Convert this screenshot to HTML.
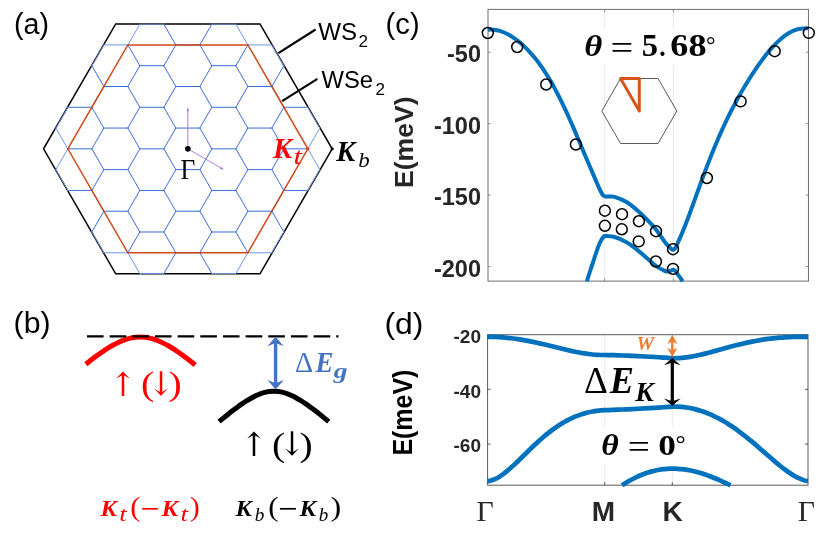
<!DOCTYPE html>
<html><head><meta charset="utf-8"><title>figure</title>
<style>html,body{margin:0;padding:0;background:#fff;overflow:hidden}svg{display:block}text{font-kerning:none}</style>
</head><body>
<svg width="830" height="538" viewBox="0 0 830 538">
<rect width="830" height="538" fill="#fff"/>
<defs><clipPath id="hc"><polygon points="332.55,148.85 260.20,274.16 115.50,274.16 43.15,148.85 115.50,23.54 260.20,23.54"/></clipPath></defs>
<polygon points="332.15,148.85 260.00,273.82 115.70,273.82 43.55,148.85 115.70,23.88 260.00,23.88" fill="none" stroke="#000" stroke-width="1.5"/>
<g clip-path="url(#hc)" fill="none" stroke-linecap="round">
<path d="M91.85,107.28 L103.85,86.50 M67.85,107.28 L91.85,107.28 M103.85,86.50 L91.85,65.71 M91.85,148.85 L103.85,128.07 M67.85,148.85 L91.85,148.85 M103.85,128.07 L91.85,107.28 M91.85,190.42 L103.85,169.63 M67.85,190.42 L91.85,190.42 M103.85,169.63 L91.85,148.85 M91.85,231.99 L103.85,211.20 M103.85,211.20 L91.85,190.42 M127.85,86.50 L139.85,65.71 M103.85,86.50 L127.85,86.50 M139.85,65.71 L127.85,44.93 M127.85,128.07 L139.85,107.28 M103.85,128.07 L127.85,128.07 M139.85,107.28 L127.85,86.50 M127.85,169.63 L139.85,148.85 M103.85,169.63 L127.85,169.63 M139.85,148.85 L127.85,128.07 M127.85,211.20 L139.85,190.42 M103.85,211.20 L127.85,211.20 M139.85,190.42 L127.85,169.63 M127.85,252.77 L139.85,231.99 M139.85,231.99 L127.85,211.20 M163.85,65.71 L175.85,44.93 M139.85,65.71 L163.85,65.71 M175.85,44.93 L163.85,24.14 M163.85,107.28 L175.85,86.50 M139.85,107.28 L163.85,107.28 M175.85,86.50 L163.85,65.71 M163.85,148.85 L175.85,128.07 M139.85,148.85 L163.85,148.85 M175.85,128.07 L163.85,107.28 M163.85,190.42 L175.85,169.63 M139.85,190.42 L163.85,190.42 M175.85,169.63 L163.85,148.85 M163.85,231.99 L175.85,211.20 M139.85,231.99 L163.85,231.99 M175.85,211.20 L163.85,190.42 M163.85,273.56 L175.85,252.77 M175.85,252.77 L163.85,231.99 M199.85,44.93 L211.85,24.14 M175.85,44.93 L199.85,44.93 M199.85,86.50 L211.85,65.71 M175.85,86.50 L199.85,86.50 M211.85,65.71 L199.85,44.93 M199.85,128.07 L211.85,107.28 M175.85,128.07 L199.85,128.07 M211.85,107.28 L199.85,86.50 M199.85,169.63 L211.85,148.85 M175.85,169.63 L199.85,169.63 M211.85,148.85 L199.85,128.07 M199.85,211.20 L211.85,190.42 M175.85,211.20 L199.85,211.20 M211.85,190.42 L199.85,169.63 M199.85,252.77 L211.85,231.99 M175.85,252.77 L199.85,252.77 M211.85,231.99 L199.85,211.20 M211.85,273.56 L199.85,252.77 M235.85,65.71 L247.85,44.93 M211.85,65.71 L235.85,65.71 M235.85,107.28 L247.85,86.50 M211.85,107.28 L235.85,107.28 M247.85,86.50 L235.85,65.71 M235.85,148.85 L247.85,128.07 M211.85,148.85 L235.85,148.85 M247.85,128.07 L235.85,107.28 M235.85,190.42 L247.85,169.63 M211.85,190.42 L235.85,190.42 M247.85,169.63 L235.85,148.85 M235.85,231.99 L247.85,211.20 M211.85,231.99 L235.85,231.99 M247.85,211.20 L235.85,190.42 M247.85,252.77 L235.85,231.99 M271.85,86.50 L283.85,65.71 M247.85,86.50 L271.85,86.50 M271.85,128.07 L283.85,107.28 M247.85,128.07 L271.85,128.07 M283.85,107.28 L271.85,86.50 M271.85,169.63 L283.85,148.85 M247.85,169.63 L271.85,169.63 M283.85,148.85 L271.85,128.07 M271.85,211.20 L283.85,190.42 M247.85,211.20 L271.85,211.20 M283.85,190.42 L271.85,169.63 M283.85,231.99 L271.85,211.20 M283.85,107.28 L307.85,107.28 M283.85,148.85 L307.85,148.85 M283.85,190.42 L307.85,190.42 " stroke="#3c6cd8" stroke-width="1.0"/>
<path d="M67.85,107.28 L55.85,86.50 M55.85,86.50 L67.85,65.71 M67.85,65.71 L91.85,65.71 M67.85,148.85 L55.85,128.07 M55.85,128.07 L67.85,107.28 M67.85,190.42 L55.85,169.63 M55.85,169.63 L67.85,148.85 M91.85,231.99 L67.85,231.99 M67.85,231.99 L55.85,211.20 M55.85,211.20 L67.85,190.42 M91.85,65.71 L103.85,44.93 M103.85,44.93 L127.85,44.93 M127.85,252.77 L103.85,252.77 M103.85,252.77 L91.85,231.99 M127.85,44.93 L139.85,24.14 M139.85,24.14 L163.85,24.14 M163.85,273.56 L139.85,273.56 M139.85,273.56 L127.85,252.77 M163.85,24.14 L175.85,3.36 M175.85,3.36 L199.85,3.36 M199.85,3.36 L211.85,24.14 M211.85,273.56 L199.85,294.34 M199.85,294.34 L175.85,294.34 M175.85,294.34 L163.85,273.56 M211.85,24.14 L235.85,24.14 M235.85,24.14 L247.85,44.93 M247.85,252.77 L235.85,273.56 M235.85,273.56 L211.85,273.56 M247.85,44.93 L271.85,44.93 M271.85,44.93 L283.85,65.71 M283.85,231.99 L271.85,252.77 M271.85,252.77 L247.85,252.77 M319.85,86.50 L307.85,107.28 M283.85,65.71 L307.85,65.71 M307.85,65.71 L319.85,86.50 M319.85,128.07 L307.85,148.85 M307.85,107.28 L319.85,128.07 M319.85,169.63 L307.85,190.42 M307.85,148.85 L319.85,169.63 M319.85,211.20 L307.85,231.99 M307.85,231.99 L283.85,231.99 M307.85,190.42 L319.85,211.20 " stroke="#6f97e6" stroke-width="1.0"/>
</g>
<polygon points="307.85,148.85 247.85,252.77 127.85,252.77 67.85,148.85 127.85,44.93 247.85,44.93" fill="none" stroke="#cc3f0c" stroke-width="1.5" stroke-opacity="0.95"/>
<circle cx="307.85" cy="148.85" r="1.6" fill="#d2460f"/>
<circle cx="332.15" cy="148.85" r="1.6" fill="#000"/>
<line x1="187.85" y1="148.85" x2="187.85" y2="111.28" stroke="#9a5fd0" stroke-width="0.8"/><polygon points="187.85,107.28 188.95,111.28 186.75,111.28" fill="#9a5fd0"/>
<line x1="187.85" y1="148.85" x2="220.39" y2="167.63" stroke="#9a5fd0" stroke-width="0.8"/><polygon points="223.85,169.63 219.84,168.59 220.94,166.68" fill="#9a5fd0"/>
<circle cx="187.85" cy="148.85" r="2.8" fill="#000"/>
<line x1="278.4" y1="53.1" x2="315.6" y2="29.5" stroke="#000" stroke-width="2.1"/>
<line x1="282.1" y1="101.1" x2="317.4" y2="78.8" stroke="#000" stroke-width="2.1"/>
<text x="14.00" y="33.60" font-size="30" font-family="Liberation Sans, sans-serif" fill="#000" textLength="35.00" lengthAdjust="spacingAndGlyphs" >(a)</text>
<text x="13.60" y="333.10" font-size="30" font-family="Liberation Sans, sans-serif" fill="#000" textLength="37.00" lengthAdjust="spacingAndGlyphs" >(b)</text>
<text x="385.60" y="33.60" font-size="30" font-family="Liberation Sans, sans-serif" fill="#000" textLength="34.00" lengthAdjust="spacingAndGlyphs" >(c)</text>
<text x="384.50" y="333.60" font-size="30" font-family="Liberation Sans, sans-serif" fill="#000" textLength="39.00" lengthAdjust="spacingAndGlyphs" >(d)</text>
<text x="318.20" y="40.10" font-size="24.5" font-family="Liberation Sans, sans-serif" fill="#000" textLength="38.80" lengthAdjust="spacingAndGlyphs" >WS</text>
<text x="358.40" y="47.20" font-size="17" font-family="Liberation Sans, sans-serif" fill="#000" textLength="9.50" lengthAdjust="spacingAndGlyphs" >2</text>
<text x="321.50" y="88.10" font-size="24.5" font-family="Liberation Sans, sans-serif" fill="#000" textLength="51.50" lengthAdjust="spacingAndGlyphs" >WSe</text>
<text x="375.50" y="95.20" font-size="17" font-family="Liberation Sans, sans-serif" fill="#000" textLength="9.50" lengthAdjust="spacingAndGlyphs" >2</text>
<text transform="translate(180.46,179.30) scale(0.2553,0.2856)" font-family="Liberation Serif, serif" font-size="100" fill="#000">Γ</text>
<text transform="translate(273.01,157.60) scale(0.2863,0.2917)" font-family="Liberation Serif, serif" font-size="100" fill="#ff0000" font-weight="bold" font-style="italic">K</text>
<text transform="translate(293.45,163.67) scale(0.3072,0.2340)" font-family="Liberation Serif, serif" font-size="100" fill="#ff0000" font-style="italic">t</text>
<text transform="translate(336.21,161.00) scale(0.2849,0.2841)" font-family="Liberation Serif, serif" font-size="100" fill="#000" font-weight="bold" font-style="italic">K</text>
<text transform="translate(358.15,166.80) scale(0.2288,0.2004)" font-family="Liberation Serif, serif" font-size="100" fill="#000" font-style="italic">b</text>
<path d="M85.90,364.21 C86.66,363.60 88.94,361.75 90.45,360.56 C91.97,359.37 93.49,358.19 95.01,357.05 C96.53,355.91 98.04,354.79 99.56,353.71 C101.08,352.63 102.60,351.58 104.12,350.57 C105.63,349.55 107.15,348.57 108.67,347.65 C110.19,346.72 111.71,345.83 113.22,344.99 C114.74,344.16 116.26,343.37 117.78,342.64 C119.30,341.92 120.82,341.25 122.33,340.65 C123.85,340.05 125.37,339.51 126.89,339.05 C128.41,338.59 129.92,338.20 131.44,337.89 C132.96,337.58 134.48,337.35 136.00,337.20 C137.51,337.05 139.03,336.99 140.55,337.00 C142.07,337.02 143.59,337.12 145.10,337.31 C146.62,337.49 148.14,337.76 149.66,338.10 C151.18,338.44 152.69,338.87 154.21,339.36 C155.73,339.85 157.25,340.42 158.77,341.05 C160.28,341.67 161.80,342.37 163.32,343.12 C164.84,343.87 166.36,344.68 167.88,345.54 C169.39,346.39 170.91,347.31 172.43,348.25 C173.95,349.20 175.47,350.20 176.98,351.22 C178.50,352.25 180.02,353.32 181.54,354.42 C183.06,355.51 184.57,356.64 186.09,357.79 C187.61,358.95 189.13,360.13 190.65,361.33 C192.16,362.54 194.44,364.40 195.20,365.01" fill="none" stroke="#ff0000" stroke-width="5.0"/>
<path d="M219.10,421.69 C219.86,421.05 222.14,419.13 223.67,417.88 C225.19,416.62 226.71,415.38 228.23,414.17 C229.76,412.95 231.28,411.76 232.80,410.59 C234.32,409.42 235.84,408.27 237.37,407.16 C238.89,406.05 240.41,404.97 241.93,403.93 C243.46,402.89 244.98,401.88 246.50,400.92 C248.02,399.97 249.54,399.05 251.07,398.20 C252.59,397.36 254.11,396.55 255.63,395.83 C257.16,395.11 258.68,394.45 260.20,393.88 C261.72,393.31 263.24,392.81 264.77,392.42 C266.29,392.02 267.81,391.71 269.33,391.51 C270.86,391.31 272.38,391.20 273.90,391.20 C275.42,391.20 276.94,391.31 278.47,391.51 C279.99,391.71 281.51,392.02 283.03,392.42 C284.56,392.81 286.08,393.31 287.60,393.88 C289.12,394.45 290.64,395.11 292.17,395.83 C293.69,396.55 295.21,397.36 296.73,398.20 C298.26,399.05 299.78,399.97 301.30,400.92 C302.82,401.88 304.34,402.89 305.87,403.93 C307.39,404.97 308.91,406.05 310.43,407.16 C311.96,408.27 313.48,409.42 315.00,410.59 C316.52,411.76 318.04,412.95 319.57,414.17 C321.09,415.38 322.61,416.62 324.13,417.88 C325.66,419.13 327.94,421.05 328.70,421.69" fill="none" stroke="#000" stroke-width="5.0"/>
<line x1="87.0" y1="336.4" x2="338.5" y2="336.4" stroke="#000" stroke-width="2.4" stroke-dasharray="16.6 6.06"/>
<g fill="#4472c4" stroke="none"><rect x="273.90" y="342.54" width="3.40" height="41.13"/><polygon points="275.60,336.70 283.75,346.30 275.60,343.04 267.45,346.30"/><polygon points="275.60,389.50 283.75,379.90 275.60,383.16 267.45,379.90"/></g>
<text transform="translate(294.93,372.00) scale(0.2820,0.2863)" font-family="Liberation Serif, serif" font-size="100" fill="#4472c4">Δ</text>
<text transform="translate(315.50,372.00) scale(0.2687,0.2886)" font-family="Liberation Serif, serif" font-size="100" fill="#4472c4" font-weight="bold" font-style="italic">E</text>
<text transform="translate(333.71,377.79) scale(0.2743,0.2163)" font-family="Liberation Serif, serif" font-size="100" fill="#4472c4" font-weight="bold" font-style="italic">g</text>
<text transform="translate(109.81,395.50) scale(0.3160,0.3281)" font-family="DejaVu Serif, serif" font-size="100" fill="#ff0000">↑</text><text transform="translate(141.05,395.11) scale(0.3971,0.3331)" font-family="Liberation Serif, serif" font-size="100" fill="#ff0000">(</text><text transform="translate(148.12,394.84) scale(0.3111,0.3281)" font-family="DejaVu Serif, serif" font-size="100" fill="#ff0000">↓</text><text transform="translate(168.62,395.11) scale(0.3971,0.3331)" font-family="Liberation Serif, serif" font-size="100" fill="#ff0000">)</text>
<text transform="translate(240.81,456.10) scale(0.3160,0.3281)" font-family="DejaVu Serif, serif" font-size="100" fill="#000">↑</text><text transform="translate(272.05,455.71) scale(0.3971,0.3331)" font-family="Liberation Serif, serif" font-size="100" fill="#000">(</text><text transform="translate(279.12,455.44) scale(0.3111,0.3281)" font-family="DejaVu Serif, serif" font-size="100" fill="#000">↓</text><text transform="translate(299.62,455.71) scale(0.3971,0.3331)" font-family="Liberation Serif, serif" font-size="100" fill="#000">)</text>
<text transform="translate(100.38,515.80) scale(0.2466,0.2382)" font-family="Liberation Serif, serif" font-size="100" fill="#ff0000" font-weight="bold" font-style="italic">K</text><text transform="translate(119.32,521.10) scale(0.2678,0.2043)" font-family="Liberation Serif, serif" font-size="100" fill="#ff0000" font-style="italic">t</text><text transform="translate(130.17,516.47) scale(0.3037,0.2647)" font-family="Liberation Serif, serif" font-size="100" fill="#ff0000">(</text><text transform="translate(140.32,520.18) scale(0.3374,0.3413)" font-family="Liberation Serif, serif" font-size="100" fill="#ff0000">−</text><text transform="translate(161.48,515.80) scale(0.2507,0.2382)" font-family="Liberation Serif, serif" font-size="100" fill="#ff0000" font-weight="bold" font-style="italic">K</text><text transform="translate(180.42,521.10) scale(0.2678,0.2043)" font-family="Liberation Serif, serif" font-size="100" fill="#ff0000" font-style="italic">t</text><text transform="translate(190.06,516.47) scale(0.2920,0.2647)" font-family="Liberation Serif, serif" font-size="100" fill="#ff0000">)</text>
<text transform="translate(235.38,515.80) scale(0.2466,0.2382)" font-family="Liberation Serif, serif" font-size="100" fill="#000" font-weight="bold" font-style="italic">K</text><text transform="translate(254.79,521.12) scale(0.1919,0.1819)" font-family="Liberation Serif, serif" font-size="100" fill="#000" font-style="italic">b</text><text transform="translate(268.25,516.47) scale(0.3076,0.2647)" font-family="Liberation Serif, serif" font-size="100" fill="#000">(</text><text transform="translate(278.09,520.18) scale(0.3438,0.3413)" font-family="Liberation Serif, serif" font-size="100" fill="#000">−</text><text transform="translate(299.58,515.80) scale(0.2507,0.2382)" font-family="Liberation Serif, serif" font-size="100" fill="#000" font-weight="bold" font-style="italic">K</text><text transform="translate(318.70,521.12) scale(0.1895,0.1819)" font-family="Liberation Serif, serif" font-size="100" fill="#000" font-style="italic">b</text><text transform="translate(330.46,516.47) scale(0.3232,0.2647)" font-family="Liberation Serif, serif" font-size="100" fill="#000">)</text>
<defs><clipPath id="cc"><rect x="487.0" y="8.4" width="321.9" height="277.7"/></clipPath></defs>
<line x1="604.6" y1="9.4" x2="604.6" y2="281.1" stroke="#e9e9e9" stroke-width="1"/>
<line x1="673.4" y1="9.4" x2="673.4" y2="281.1" stroke="#e9e9e9" stroke-width="1"/>
<rect x="488.00" y="9.40" width="320.45" height="271.70" fill="none" stroke="#707070" stroke-width="1"/>
<line x1="488.0" y1="52.2" x2="490.8" y2="52.2" stroke="#777" stroke-width="0.8"/>
<line x1="808.5" y1="52.2" x2="805.7" y2="52.2" stroke="#777" stroke-width="0.8"/>
<text x="481.00" y="62.20" font-size="23.5" font-family="Liberation Sans, sans-serif" fill="#262626" font-weight="bold" text-anchor="end" >-50</text>
<line x1="488.0" y1="123.6" x2="490.8" y2="123.6" stroke="#777" stroke-width="0.8"/>
<line x1="808.5" y1="123.6" x2="805.7" y2="123.6" stroke="#777" stroke-width="0.8"/>
<text x="481.00" y="133.60" font-size="23.5" font-family="Liberation Sans, sans-serif" fill="#262626" font-weight="bold" text-anchor="end" >-100</text>
<line x1="488.0" y1="195.1" x2="490.8" y2="195.1" stroke="#777" stroke-width="0.8"/>
<line x1="808.5" y1="195.1" x2="805.7" y2="195.1" stroke="#777" stroke-width="0.8"/>
<text x="481.00" y="205.10" font-size="23.5" font-family="Liberation Sans, sans-serif" fill="#262626" font-weight="bold" text-anchor="end" >-150</text>
<line x1="488.0" y1="266.6" x2="490.8" y2="266.6" stroke="#777" stroke-width="0.8"/>
<line x1="808.5" y1="266.6" x2="805.7" y2="266.6" stroke="#777" stroke-width="0.8"/>
<text x="481.00" y="276.60" font-size="23.5" font-family="Liberation Sans, sans-serif" fill="#262626" font-weight="bold" text-anchor="end" >-200</text>
<line x1="604.6" y1="281.1" x2="604.6" y2="278.3" stroke="#777" stroke-width="0.8"/>
<line x1="604.6" y1="9.4" x2="604.6" y2="12.2" stroke="#777" stroke-width="0.8"/>
<line x1="673.4" y1="281.1" x2="673.4" y2="278.3" stroke="#777" stroke-width="0.8"/>
<line x1="673.4" y1="9.4" x2="673.4" y2="12.2" stroke="#777" stroke-width="0.8"/>
<g clip-path="url(#cc)" fill="none" stroke="#0072bd" stroke-width="4.0" stroke-linejoin="round">
<path d="M487.90,29.80 C488.40,29.76 489.89,29.58 490.89,29.56 C491.89,29.55 492.89,29.60 493.88,29.70 C494.88,29.80 495.88,29.96 496.88,30.17 C497.87,30.37 498.87,30.64 499.87,30.94 C500.87,31.24 501.86,31.60 502.86,31.99 C503.86,32.38 504.86,32.82 505.85,33.30 C506.85,33.78 507.85,34.29 508.85,34.85 C509.84,35.41 510.84,36.00 511.84,36.63 C512.84,37.27 513.83,37.94 514.83,38.64 C515.83,39.35 516.83,40.09 517.82,40.87 C518.82,41.65 519.82,42.47 520.82,43.33 C521.81,44.18 522.81,45.08 523.81,46.01 C524.81,46.94 525.80,47.91 526.80,48.92 C527.80,49.93 528.79,50.98 529.79,52.07 C530.79,53.16 531.79,54.29 532.78,55.47 C533.78,56.64 534.78,57.85 535.78,59.11 C536.77,60.37 537.77,61.67 538.77,63.02 C539.77,64.37 540.76,65.76 541.76,67.19 C542.76,68.63 543.76,70.11 544.75,71.64 C545.75,73.17 546.75,74.74 547.75,76.36 C548.74,77.98 549.74,79.65 550.74,81.37 C551.74,83.08 552.73,84.84 553.73,86.65 C554.73,88.46 555.73,90.31 556.72,92.21 C557.72,94.11 558.72,96.05 559.72,98.04 C560.71,100.03 561.71,102.06 562.71,104.13 C563.71,106.20 564.70,108.31 565.70,110.46 C566.70,112.60 567.69,114.79 568.69,117.01 C569.69,119.22 570.69,121.48 571.68,123.75 C572.68,126.03 573.68,128.33 574.68,130.66 C575.67,132.98 576.67,135.33 577.67,137.68 C578.67,140.04 579.66,142.41 580.66,144.78 C581.66,147.15 582.66,149.54 583.65,151.90 C584.65,154.27 585.65,156.64 586.65,158.98 C587.64,161.32 588.10,162.33 589.64,165.94 C591.18,169.54 594.31,176.89 595.90,180.60 C597.49,184.31 598.23,186.10 599.20,188.20 C600.17,190.30 601.00,191.97 601.70,193.20 C602.40,194.43 602.82,195.07 603.40,195.60 C603.98,196.13 604.10,196.25 605.20,196.40 C606.30,196.55 608.43,196.42 610.00,196.50 C611.57,196.58 611.85,195.98 614.60,196.90 C617.35,197.82 622.78,199.82 626.50,202.00 C630.22,204.18 633.43,207.02 636.90,210.00 C640.37,212.98 644.08,216.60 647.30,219.90 C650.52,223.20 653.22,226.03 656.20,229.80 C659.18,233.57 663.03,239.68 665.20,242.50 C667.37,245.32 668.18,245.63 669.20,246.70 C670.22,247.77 670.68,248.38 671.30,248.90 C671.92,249.42 672.33,249.80 672.90,249.80 C673.47,249.80 674.10,249.55 674.70,248.90 C675.30,248.25 675.80,247.36 676.50,245.90 C677.20,244.44 678.06,242.13 678.93,240.15 C679.79,238.17 680.77,236.16 681.69,234.02 C682.61,231.88 683.53,229.62 684.45,227.32 C685.37,225.01 686.30,222.62 687.22,220.20 C688.14,217.78 689.06,215.29 689.98,212.79 C690.90,210.30 691.82,207.75 692.74,205.21 C693.66,202.67 694.59,200.11 695.51,197.55 C696.43,195.00 697.35,192.43 698.27,189.89 C699.19,187.34 700.11,184.79 701.03,182.28 C701.95,179.76 702.87,177.25 703.80,174.77 C704.72,172.30 705.64,169.84 706.56,167.42 C707.48,165.00 708.40,162.60 709.32,160.24 C710.24,157.88 711.16,155.56 712.09,153.26 C713.01,150.97 713.93,148.72 714.85,146.49 C715.77,144.27 716.69,142.09 717.61,139.94 C718.53,137.79 719.45,135.68 720.38,133.61 C721.30,131.53 722.22,129.50 723.14,127.49 C724.06,125.49 724.98,123.52 725.90,121.59 C726.82,119.66 727.74,117.76 728.67,115.89 C729.59,114.02 730.51,112.19 731.43,110.39 C732.35,108.58 733.27,106.81 734.19,105.07 C735.11,103.32 736.03,101.61 736.96,99.92 C737.88,98.23 738.80,96.58 739.72,94.94 C740.64,93.31 741.56,91.70 742.48,90.12 C743.40,88.54 744.32,86.98 745.24,85.45 C746.17,83.92 747.09,82.41 748.01,80.92 C748.93,79.44 749.85,77.97 750.77,76.53 C751.69,75.10 752.61,73.68 753.53,72.29 C754.46,70.89 755.38,69.52 756.30,68.18 C757.22,66.83 758.14,65.51 759.06,64.21 C759.98,62.91 760.90,61.64 761.82,60.39 C762.75,59.14 763.67,57.92 764.59,56.73 C765.51,55.53 766.43,54.37 767.35,53.23 C768.27,52.09 769.19,50.98 770.11,49.91 C771.04,48.83 771.96,47.78 772.88,46.77 C773.80,45.76 774.72,44.78 775.64,43.84 C776.56,42.90 777.48,42.00 778.40,41.13 C779.33,40.27 780.25,39.44 781.17,38.65 C782.09,37.87 783.01,37.12 783.93,36.42 C784.85,35.72 785.77,35.06 786.69,34.44 C787.61,33.83 788.54,33.26 789.46,32.74 C790.38,32.21 791.30,31.74 792.22,31.31 C793.14,30.88 794.06,30.50 794.98,30.16 C795.90,29.83 796.83,29.54 797.75,29.30 C798.67,29.05 799.59,28.86 800.51,28.70 C801.43,28.55 802.35,28.44 803.27,28.37 C804.19,28.30 805.12,28.28 806.04,28.28 C806.96,28.29 808.34,28.38 808.80,28.40"/>
<path d="M586.90,281.30 C587.30,280.00 588.40,276.30 589.30,273.50 C590.20,270.70 590.80,268.98 592.30,264.50 C593.80,260.02 596.68,250.90 598.30,246.60 C599.92,242.30 600.95,240.48 602.00,238.70 C603.05,236.92 604.17,236.37 604.60,235.90 L604.60,235.90 C606.27,236.08 610.95,235.95 614.60,237.00 C618.25,238.05 622.78,240.10 626.50,242.20 C630.22,244.30 633.43,246.88 636.90,249.60 C640.37,252.32 644.08,255.77 647.30,258.50 C650.52,261.23 653.47,264.02 656.20,266.00 C658.93,267.98 661.90,269.48 663.70,270.40 C665.50,271.32 665.95,271.40 667.00,271.50 C668.05,271.60 669.00,271.28 670.00,271.00 C671.00,270.72 672.07,269.78 673.00,269.80 C673.93,269.82 674.83,270.37 675.60,271.10 C676.37,271.83 676.83,273.12 677.60,274.20 C678.37,275.28 679.35,276.42 680.20,277.60 C681.05,278.78 682.28,280.68 682.70,281.30 "/>
</g>
<circle cx="487.8" cy="33.0" r="5.45" fill="none" stroke="#000" stroke-width="1.5"/>
<circle cx="517.2" cy="47.0" r="5.45" fill="none" stroke="#000" stroke-width="1.5"/>
<circle cx="546.2" cy="84.5" r="5.45" fill="none" stroke="#000" stroke-width="1.5"/>
<circle cx="575.9" cy="144.5" r="5.45" fill="none" stroke="#000" stroke-width="1.5"/>
<circle cx="604.9" cy="210.7" r="5.45" fill="none" stroke="#000" stroke-width="1.5"/>
<circle cx="622.0" cy="214.2" r="5.45" fill="none" stroke="#000" stroke-width="1.5"/>
<circle cx="638.9" cy="221.2" r="5.45" fill="none" stroke="#000" stroke-width="1.5"/>
<circle cx="656.0" cy="231.2" r="5.45" fill="none" stroke="#000" stroke-width="1.5"/>
<circle cx="673.0" cy="249.2" r="5.45" fill="none" stroke="#000" stroke-width="1.5"/>
<circle cx="604.9" cy="225.8" r="5.45" fill="none" stroke="#000" stroke-width="1.5"/>
<circle cx="621.8" cy="229.3" r="5.45" fill="none" stroke="#000" stroke-width="1.5"/>
<circle cx="638.7" cy="241.4" r="5.45" fill="none" stroke="#000" stroke-width="1.5"/>
<circle cx="655.9" cy="261.5" r="5.45" fill="none" stroke="#000" stroke-width="1.5"/>
<circle cx="673.0" cy="268.9" r="5.45" fill="none" stroke="#000" stroke-width="1.5"/>
<circle cx="706.9" cy="178.0" r="5.45" fill="none" stroke="#000" stroke-width="1.5"/>
<circle cx="740.6" cy="101.4" r="5.45" fill="none" stroke="#000" stroke-width="1.5"/>
<circle cx="774.7" cy="51.2" r="5.45" fill="none" stroke="#000" stroke-width="1.5"/>
<circle cx="808.8" cy="32.9" r="5.45" fill="none" stroke="#000" stroke-width="1.5"/>
<rect x="580" y="28.6" width="142" height="36.1" fill="#fff"/>
<text transform="translate(584.30,56.31) scale(0.3471,0.2962)" font-family="Liberation Serif, serif" font-size="100" fill="#000" font-weight="bold" font-style="italic">θ</text>
<text transform="translate(610.59,59.06) scale(0.4040,0.3360)" font-family="Liberation Serif, serif" font-size="100" fill="#000">=</text>
<text transform="translate(641.69,56.29) scale(0.3260,0.3130)" font-family="Liberation Serif, serif" font-size="100" fill="#000" font-weight="bold">5</text>
<text transform="translate(659.26,56.21) scale(0.2591,0.2776)" font-family="Liberation Serif, serif" font-size="100" fill="#000" font-weight="bold">.</text>
<text transform="translate(670.36,56.30) scale(0.3613,0.3082)" font-family="Liberation Serif, serif" font-size="100" fill="#000" font-weight="bold">68</text>
<text transform="translate(705.96,52.65) scale(0.2374,0.2473)" font-family="Liberation Serif, serif" font-size="100" fill="#000">°</text>
<polygon points="676.80,111.00 658.05,143.48 620.55,143.48 601.80,111.00 620.55,78.52 658.05,78.52" fill="none" stroke="#444" stroke-width="0.9"/>
<polygon points="639.30,111.00 620.55,78.52 639.30,78.52" fill="none" stroke="#d9541a" stroke-width="3.0" stroke-linejoin="round"/>
<text transform="translate(412.5,188.0) rotate(-90)" font-size="26" font-family="Liberation Sans, sans-serif" font-weight="bold" fill="#262626" textLength="91.5" lengthAdjust="spacingAndGlyphs">E(meV)</text>
<defs><clipPath id="cd"><rect x="486.9" y="333.7" width="321.6" height="156.5"/></clipPath></defs>
<line x1="604.7" y1="334.7" x2="604.7" y2="485.2" stroke="#e9e9e9" stroke-width="1"/>
<line x1="672.3" y1="334.7" x2="672.3" y2="485.2" stroke="#e9e9e9" stroke-width="1"/>
<rect x="487.60" y="334.70" width="320.40" height="150.50" fill="none" stroke="#5a5a5a" stroke-width="1"/>
<text x="481.00" y="342.90" font-size="19" font-family="Liberation Sans, sans-serif" fill="#262626" font-weight="bold" text-anchor="end" >-20</text>
<line x1="487.6" y1="389.3" x2="490.6" y2="389.3" stroke="#333" stroke-width="0.8"/>
<line x1="808.0" y1="389.3" x2="805.0" y2="389.3" stroke="#333" stroke-width="0.8"/>
<text x="481.00" y="397.50" font-size="19" font-family="Liberation Sans, sans-serif" fill="#262626" font-weight="bold" text-anchor="end" >-40</text>
<line x1="487.6" y1="444.1" x2="490.6" y2="444.1" stroke="#333" stroke-width="0.8"/>
<line x1="808.0" y1="444.1" x2="805.0" y2="444.1" stroke="#333" stroke-width="0.8"/>
<text x="481.00" y="452.30" font-size="19" font-family="Liberation Sans, sans-serif" fill="#262626" font-weight="bold" text-anchor="end" >-60</text>
<line x1="604.7" y1="485.2" x2="604.7" y2="482.2" stroke="#333" stroke-width="0.8"/>
<line x1="672.3" y1="485.2" x2="672.3" y2="482.2" stroke="#333" stroke-width="0.8"/>
<g clip-path="url(#cd)" fill="none" stroke="#0072bd" stroke-width="4.7" stroke-linejoin="round">
<path d="M487.10,336.80 C487.78,336.80 489.81,336.80 491.16,336.82 C492.51,336.84 493.86,336.88 495.22,336.93 C496.57,336.98 497.92,337.05 499.28,337.13 C500.63,337.21 501.98,337.31 503.33,337.42 C504.69,337.53 506.04,337.65 507.39,337.79 C508.75,337.93 510.10,338.08 511.45,338.25 C512.80,338.41 514.16,338.59 515.51,338.78 C516.86,338.97 518.22,339.18 519.57,339.39 C520.92,339.61 522.27,339.84 523.63,340.07 C524.98,340.31 526.33,340.56 527.69,340.82 C529.04,341.08 530.39,341.35 531.74,341.63 C533.10,341.91 534.45,342.19 535.80,342.49 C537.16,342.78 538.51,343.08 539.86,343.39 C541.21,343.70 542.57,344.01 543.92,344.33 C545.27,344.65 546.63,344.98 547.98,345.30 C549.33,345.63 550.69,345.96 552.04,346.29 C553.39,346.62 554.74,346.95 556.10,347.28 C557.45,347.61 558.80,347.95 560.16,348.27 C561.51,348.60 562.86,348.93 564.21,349.25 C565.57,349.57 566.92,349.89 568.27,350.20 C569.63,350.50 570.98,350.81 572.33,351.10 C573.68,351.39 575.04,351.68 576.39,351.95 C577.74,352.22 579.10,352.48 580.45,352.73 C581.80,352.97 583.15,353.21 584.51,353.42 C585.86,353.64 587.21,353.84 588.57,354.01 C589.92,354.19 591.27,354.35 592.62,354.48 C593.98,354.62 595.33,354.73 596.68,354.82 C598.04,354.90 599.39,354.97 600.74,355.00 C602.09,355.03 603.37,354.98 604.80,355.00 C606.23,355.02 607.80,355.06 609.30,355.10 C610.80,355.14 612.30,355.17 613.80,355.22 C615.30,355.26 616.80,355.30 618.30,355.35 C619.80,355.39 621.30,355.44 622.80,355.50 C624.30,355.55 625.80,355.60 627.30,355.66 C628.80,355.72 630.30,355.78 631.80,355.84 C633.30,355.91 634.80,355.97 636.30,356.04 C637.80,356.11 639.30,356.18 640.80,356.25 C642.30,356.33 643.80,356.40 645.30,356.48 C646.80,356.56 648.30,356.64 649.80,356.73 C651.30,356.81 652.80,356.90 654.30,356.99 C655.80,357.08 657.30,357.17 658.80,357.27 C660.30,357.36 661.80,357.46 663.30,357.56 C664.80,357.66 666.30,357.77 667.80,357.87 C669.30,357.98 670.77,358.15 672.30,358.20 C673.83,358.25 675.42,358.24 676.98,358.19 C678.54,358.14 680.10,358.04 681.67,357.90 C683.23,357.77 684.79,357.59 686.35,357.38 C687.91,357.18 689.47,356.93 691.03,356.66 C692.59,356.39 694.15,356.09 695.71,355.77 C697.27,355.45 698.84,355.10 700.40,354.74 C701.96,354.39 703.52,354.00 705.08,353.61 C706.64,353.22 708.20,352.82 709.76,352.40 C711.32,351.99 712.88,351.57 714.44,351.14 C716.01,350.72 717.57,350.29 719.13,349.85 C720.69,349.42 722.25,348.99 723.81,348.56 C725.37,348.13 726.93,347.70 728.49,347.28 C730.05,346.85 731.61,346.43 733.18,346.03 C734.74,345.62 736.30,345.21 737.86,344.82 C739.42,344.43 740.98,344.04 742.54,343.68 C744.10,343.31 745.66,342.95 747.22,342.60 C748.79,342.26 750.35,341.93 751.91,341.61 C753.47,341.29 755.03,340.99 756.59,340.71 C758.15,340.42 759.71,340.15 761.27,339.90 C762.83,339.65 764.39,339.41 765.96,339.19 C767.52,338.97 769.08,338.77 770.64,338.58 C772.20,338.39 773.76,338.22 775.32,338.07 C776.88,337.91 778.44,337.78 780.00,337.65 C781.56,337.53 783.13,337.42 784.69,337.33 C786.25,337.24 787.81,337.16 789.37,337.09 C790.93,337.03 792.49,336.98 794.05,336.93 C795.61,336.89 797.17,336.86 798.73,336.84 C800.30,336.82 801.86,336.81 803.42,336.80 C804.98,336.79 807.32,336.80 808.10,336.80"/>
<path d="M487.30,481.30 C487.98,481.17 490.00,480.91 491.35,480.52 C492.70,480.12 494.05,479.57 495.40,478.93 C496.75,478.28 498.10,477.51 499.46,476.67 C500.81,475.82 502.16,474.87 503.51,473.87 C504.86,472.86 506.21,471.77 507.56,470.65 C508.91,469.52 510.26,468.32 511.61,467.11 C512.96,465.89 514.31,464.62 515.66,463.34 C517.01,462.06 518.36,460.75 519.71,459.44 C521.06,458.12 522.41,456.79 523.77,455.46 C525.12,454.14 526.47,452.80 527.82,451.48 C529.17,450.16 530.52,448.85 531.87,447.55 C533.22,446.26 534.57,444.97 535.92,443.72 C537.27,442.46 538.62,441.22 539.97,440.02 C541.32,438.81 542.67,437.63 544.02,436.48 C545.37,435.33 546.73,434.22 548.08,433.14 C549.43,432.06 550.78,431.01 552.13,430.01 C553.48,429.00 554.83,428.03 556.18,427.10 C557.53,426.17 558.88,425.27 560.23,424.42 C561.58,423.57 562.93,422.76 564.28,421.99 C565.63,421.22 566.98,420.49 568.33,419.80 C569.69,419.10 571.04,418.45 572.39,417.84 C573.74,417.23 575.09,416.66 576.44,416.12 C577.79,415.59 579.14,415.09 580.49,414.64 C581.84,414.18 583.19,413.76 584.54,413.37 C585.89,412.99 587.24,412.64 588.59,412.33 C589.94,412.02 591.29,411.74 592.64,411.50 C594.00,411.25 595.35,411.04 596.70,410.87 C598.05,410.69 599.40,410.55 600.75,410.44 C602.10,410.32 603.37,410.26 604.80,410.20 C606.23,410.14 607.80,410.10 609.30,410.05 C610.80,409.99 612.30,409.94 613.80,409.88 C615.30,409.82 616.80,409.76 618.30,409.70 C619.80,409.64 621.30,409.58 622.80,409.51 C624.30,409.45 625.80,409.38 627.30,409.31 C628.80,409.24 630.30,409.17 631.80,409.09 C633.30,409.02 634.80,408.94 636.30,408.87 C637.80,408.79 639.30,408.71 640.80,408.63 C642.30,408.54 643.80,408.46 645.30,408.37 C646.80,408.29 648.30,408.20 649.80,408.11 C651.30,408.02 652.80,407.93 654.30,407.83 C655.80,407.74 657.30,407.64 658.80,407.54 C660.30,407.44 661.80,407.34 663.30,407.24 C664.80,407.14 666.30,407.03 667.80,406.93 C669.30,406.82 670.77,406.65 672.30,406.60 C673.83,406.55 675.42,406.58 676.98,406.63 C678.54,406.69 680.10,406.79 681.67,406.93 C683.23,407.07 684.79,407.26 686.35,407.49 C687.91,407.71 689.47,407.99 691.03,408.30 C692.59,408.62 694.15,408.98 695.71,409.38 C697.27,409.78 698.84,410.22 700.40,410.71 C701.96,411.20 703.52,411.74 705.08,412.31 C706.64,412.89 708.20,413.51 709.76,414.17 C711.32,414.83 712.88,415.54 714.44,416.29 C716.01,417.04 717.57,417.83 719.13,418.66 C720.69,419.49 722.25,420.37 723.81,421.28 C725.37,422.20 726.93,423.16 728.49,424.15 C730.05,425.15 731.61,426.18 733.18,427.25 C734.74,428.32 736.30,429.43 737.86,430.57 C739.42,431.71 740.98,432.89 742.54,434.10 C744.10,435.30 745.66,436.54 747.22,437.80 C748.79,439.05 750.35,440.34 751.91,441.65 C753.47,442.95 755.03,444.28 756.59,445.62 C758.15,446.96 759.71,448.32 761.27,449.68 C762.83,451.03 764.39,452.41 765.96,453.77 C767.52,455.13 769.08,456.50 770.64,457.84 C772.20,459.19 773.76,460.54 775.32,461.85 C776.88,463.16 778.44,464.47 780.00,465.72 C781.56,466.98 783.13,468.21 784.69,469.38 C786.25,470.55 787.81,471.69 789.37,472.74 C790.93,473.80 792.49,474.81 794.05,475.72 C795.61,476.64 797.17,477.49 798.73,478.22 C800.30,478.95 801.86,479.60 803.42,480.12 C804.98,480.63 807.32,481.10 808.10,481.30"/>
<path d="M622.00,485.30 C622.62,484.91 624.49,483.69 625.74,482.93 C626.99,482.17 628.24,481.44 629.48,480.74 C630.73,480.04 631.98,479.37 633.22,478.72 C634.47,478.08 635.72,477.47 636.97,476.89 C638.21,476.30 639.46,475.75 640.71,475.23 C641.95,474.71 643.20,474.22 644.45,473.76 C645.70,473.30 646.94,472.87 648.19,472.48 C649.44,472.08 650.68,471.71 651.93,471.38 C653.18,471.04 654.43,470.74 655.67,470.46 C656.92,470.19 658.17,469.95 659.41,469.74 C660.66,469.52 661.91,469.34 663.16,469.19 C664.40,469.04 665.65,468.92 666.90,468.83 C668.14,468.74 669.39,468.68 670.64,468.64 C671.89,468.61 673.13,468.61 674.38,468.64 C675.63,468.66 676.87,468.72 678.12,468.80 C679.37,468.88 680.61,468.99 681.86,469.13 C683.11,469.27 684.36,469.43 685.60,469.62 C686.85,469.81 688.10,470.03 689.34,470.27 C690.59,470.51 691.84,470.78 693.09,471.06 C694.33,471.35 695.58,471.67 696.83,472.00 C698.07,472.34 699.32,472.70 700.57,473.07 C701.82,473.45 703.06,473.85 704.31,474.27 C705.56,474.69 706.80,475.13 708.05,475.58 C709.30,476.04 710.55,476.51 711.79,477.00 C713.04,477.49 714.29,478.00 715.53,478.52 C716.78,479.04 718.03,479.57 719.28,480.12 C720.52,480.66 721.77,481.22 723.02,481.79 C724.26,482.36 725.51,482.94 726.76,483.52 C728.01,484.11 729.88,485.00 730.50,485.30"/>
</g>
<rect x="596" y="426.9" width="96" height="36.6" fill="#fff"/>
<text transform="translate(601.24,455.12) scale(0.3363,0.2891)" font-family="Liberation Serif, serif" font-size="100" fill="#000" font-weight="bold" font-style="italic">θ</text>
<text transform="translate(627.74,457.97) scale(0.3933,0.3320)" font-family="Liberation Serif, serif" font-size="100" fill="#000">=</text>
<text transform="translate(658.15,455.10) scale(0.3539,0.3038)" font-family="Liberation Serif, serif" font-size="100" fill="#000" font-weight="bold">0</text>
<text transform="translate(675.48,451.57) scale(0.2539,0.2506)" font-family="Liberation Serif, serif" font-size="100" fill="#000">°</text>
<text transform="translate(583.88,393.10) scale(0.3719,0.3848)" font-family="Liberation Serif, serif" font-size="100" fill="#000">Δ</text>
<text transform="translate(609.87,393.10) scale(0.3625,0.3757)" font-family="Liberation Serif, serif" font-size="100" fill="#000" font-weight="bold" font-style="italic">E</text>
<text transform="translate(635.20,400.60) scale(0.2781,0.2703)" font-family="Liberation Serif, serif" font-size="100" fill="#000" font-weight="bold" font-style="italic">K</text>
<g fill="#000" stroke="none"><rect x="670.70" y="362.06" width="3.20" height="39.67"/><polygon points="672.30,358.10 680.65,365.30 672.30,362.56 663.95,365.30"/><polygon points="672.30,405.70 680.65,398.50 672.30,401.24 663.95,398.50"/></g>
<g fill="#ed7d31" stroke="none"><rect x="671.10" y="341.10" width="2.40" height="9.60"/><polygon points="672.30,334.70 677.30,343.90 672.30,341.60 667.30,343.90"/><polygon points="672.30,357.10 677.30,347.90 672.30,350.20 667.30,347.90"/></g>
<text transform="translate(636.54,350.12) scale(0.1980,0.1821)" font-family="Liberation Serif, serif" font-size="100" fill="#ed7d31" font-weight="bold" font-style="italic">W</text>
<text x="476.60" y="521.20" font-size="29.7" font-family="Liberation Serif, serif" fill="#262626" >Γ</text>
<text x="797.80" y="521.20" font-size="29.7" font-family="Liberation Serif, serif" fill="#262626" >Γ</text>
<text x="603.50" y="521.00" font-size="28" font-family="Liberation Sans, sans-serif" fill="#262626" font-weight="bold" text-anchor="middle" >M</text>
<text x="672.50" y="521.00" font-size="28" font-family="Liberation Sans, sans-serif" fill="#262626" font-weight="bold" text-anchor="middle" >K</text>
<text transform="translate(412.1,455.6) rotate(-90)" font-size="27.5" font-family="Liberation Sans, sans-serif" font-weight="bold" fill="#000" textLength="86" lengthAdjust="spacingAndGlyphs">E(meV)</text>
</svg>
</body></html>
